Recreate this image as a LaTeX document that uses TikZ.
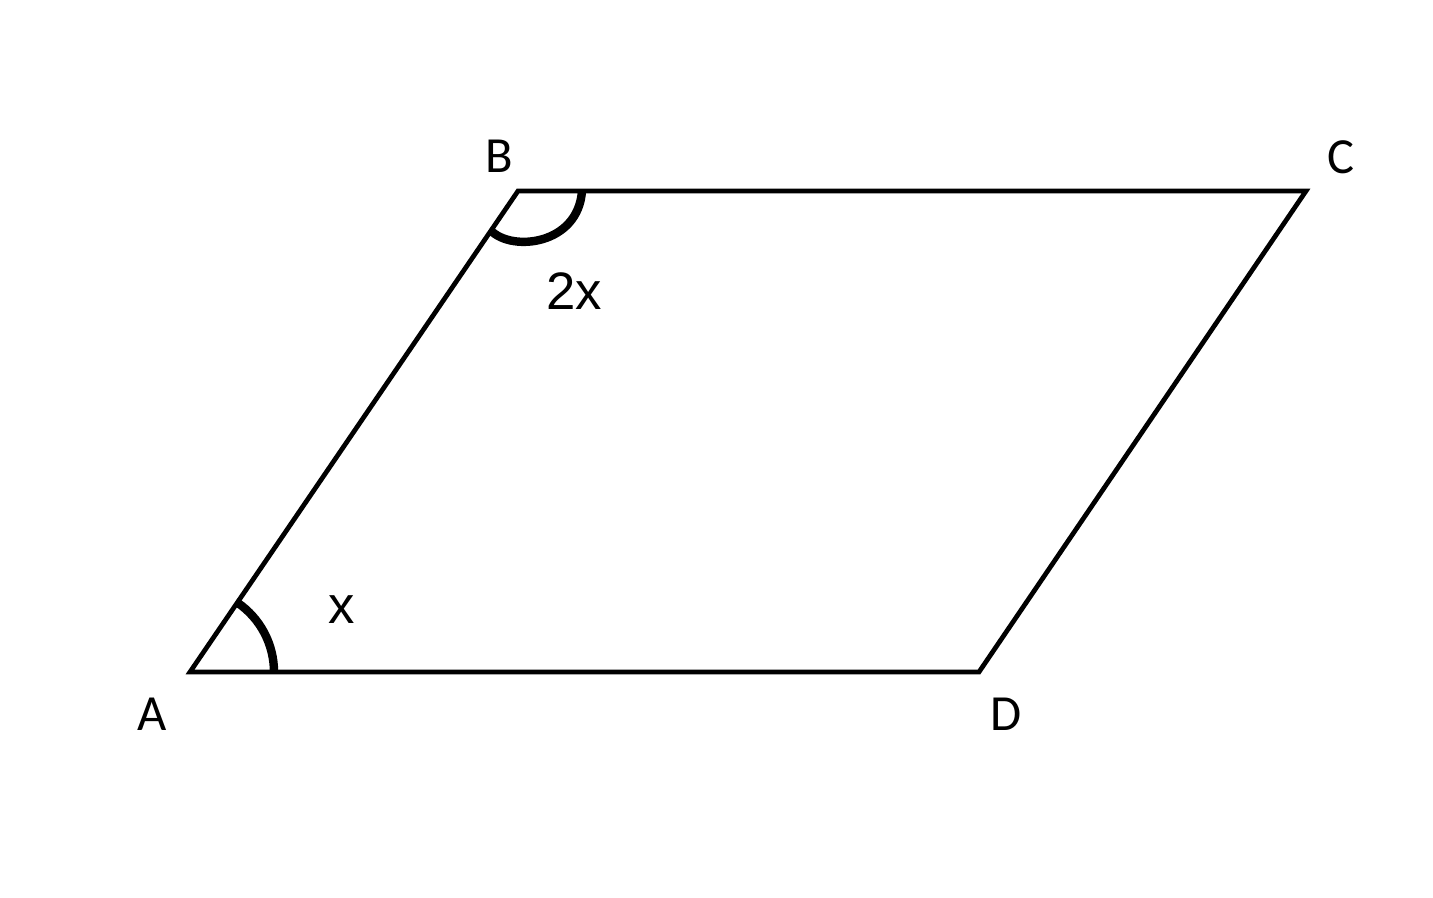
\documentclass[tikz,border=0pt]{standalone}
\usepackage{fontspec}
\newfontfamily\vertexfont{Carlito}
\newfontfamily\anglefont{Liberation Sans}
\usetikzlibrary{calc}

\tikzset{
	side/.style={line width=2.7pt},
	anglearc/.style={line width=4.8pt},
	vertexlabel/.style={inner sep=0pt, font=\vertexfont\fontsize{28.8}{30}\selectfont},
	anglelabel/.style={inner sep=0pt, font=\anglefont\fontsize{30}{32}\selectfont}
}

\begin{document}
\begin{tikzpicture}[x=0.02cm, y=0.02cm]
	\useasboundingbox (0,0) rectangle (1433,898);
	
	\coordinate (A) at (190,226);
	\coordinate (B) at (518,707);
	\coordinate (C) at (1306,707);
	\coordinate (D) at (979,226);
	
	\draw [side] (A) -- (B) -- (C) -- (D) -- cycle;
	
	% angle marks
	\draw [anglearc] ([shift={(0:84)}]A) arc (0:55.7:84);
	\draw [anglearc] ($(B)!0.96cm!(A)$) .. controls (512,646) and (578,653) .. (582,707);
	
	\node [vertexlabel] (labA) at (152,184) {A};
	\node [vertexlabel] (labB) at (499,742) {B};
	\node [vertexlabel] (labC) at (1341,741) {C};
	\node [vertexlabel] (labD) at (1006,184) {D};
	
	\node [anglelabel] (angA) at (342,288) {x};
	\node [anglelabel] (angB) at (574,607) {2x};
\end{tikzpicture}
\end{document}
